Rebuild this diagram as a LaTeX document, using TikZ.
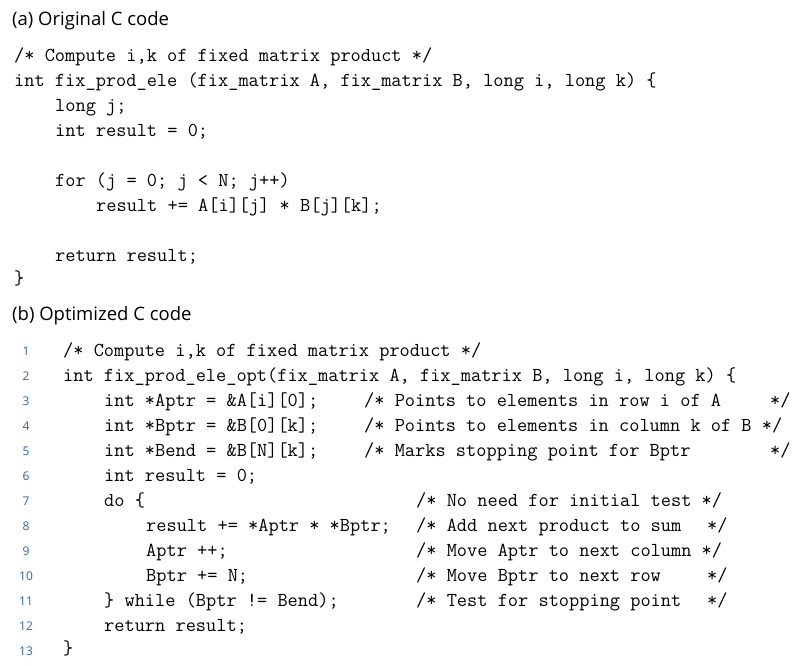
\documentclass[tikz,border=0pt]{standalone}
\usepackage{fontspec}
\setsansfont{Open Sans}
\definecolor{lnblue}{RGB}{40,100,190}
\begin{document}
\begin{tikzpicture}[x=1pt,y=-1pt,
  ca/.style={anchor=base west,inner sep=0pt,font=\fontsize{19.8}{20}\ttfamily},
  cb/.style={anchor=base west,inner sep=0pt,font=\fontsize{19.8}{20}\ttfamily},
  hd/.style={anchor=base west,inner sep=0pt,font=\fontsize{18.5}{19}\sffamily},
  ln/.style={anchor=base,inner sep=0pt,text=lnblue,font=\fontsize{12}{13}\sffamily}]
\useasboundingbox[fill=white] (0,0) rectangle (800,665);
\node[hd] (ha) at (12,25) {(a) Original C code};
\node[ca] (a1) at (14,61) {/* Compute i,k of fixed matrix product */};
\node[ca] (a2) at (14,86) {int fix\_prod\_ele (fix\_matrix A, fix\_matrix B, long i, long k) \{};
\node[ca] (a3) at (55,111) {long j;};
\node[ca] (a4) at (55,136) {int result = 0;};
\node[ca] (a5) at (55,186) {for (j = 0; j < N; j++)};
\node[ca] (a6) at (96,211) {result += A[i][j] * B[j][k];};
\node[ca] (a7) at (55,261) {return result;};
\node[ca] (a8) at (14,284) {\}};
\node[hd] (hb) at (12,320) {(b) Optimized C code};
\foreach \i in {1,...,13}{\node[ln] (n\i) at (26,{356+25*(\i-1)-1}) {\i};}
\node[cb] (b1) at (63,356) {/* Compute i,k of fixed matrix product */};
\node[cb] (b2) at (63,381) {int fix\_prod\_ele\_opt(fix\_matrix A, fix\_matrix B, long i, long k) \{};
\node[cb] (b3) at (104,406) {int *Aptr = \&A[i][0];};
\node[cb] (c3) at (364,406) {/* Points to elements in row i of A};
\node[cb] (e3) at (770,406) {*/};
\node[cb] (b4) at (104,431) {int *Bptr = \&B[0][k];};
\node[cb] (c4) at (364,431) {/* Points to elements in column k of B */};
\node[cb] (b5) at (104,456) {int *Bend = \&B[N][k];};
\node[cb] (c5) at (364,456) {/* Marks stopping point for Bptr};
\node[cb] (e5) at (770,456) {*/};
\node[cb] (b6) at (104,481) {int result = 0;};
\node[cb] (b7) at (104,506) {do \{};
\node[cb] (c7) at (416,506) {/* No need for initial test */};
\node[cb] (b8) at (146,531) {result += *Aptr * *Bptr;};
\node[cb] (c8) at (416,531) {/* Add next product to sum};
\node[cb] (e8) at (707,531) {*/};
\node[cb] (b9) at (146,556) {Aptr ++;};
\node[cb] (c9) at (416,556) {/* Move Aptr to next column */};
\node[cb] (b10) at (146,581) {Bptr += N;};
\node[cb] (c10) at (416,581) {/* Move Bptr to next row};
\node[cb] (e10) at (707,581) {*/};
\node[cb] (b11) at (104,606) {\} while (Bptr != Bend);};
\node[cb] (c11) at (416,606) {/* Test for stopping point};
\node[cb] (e11) at (707,606) {*/};
\node[cb] (b12) at (104,631) {return result;};
\node[cb] (b13) at (63,654) {\}};
\end{tikzpicture}
\end{document}
